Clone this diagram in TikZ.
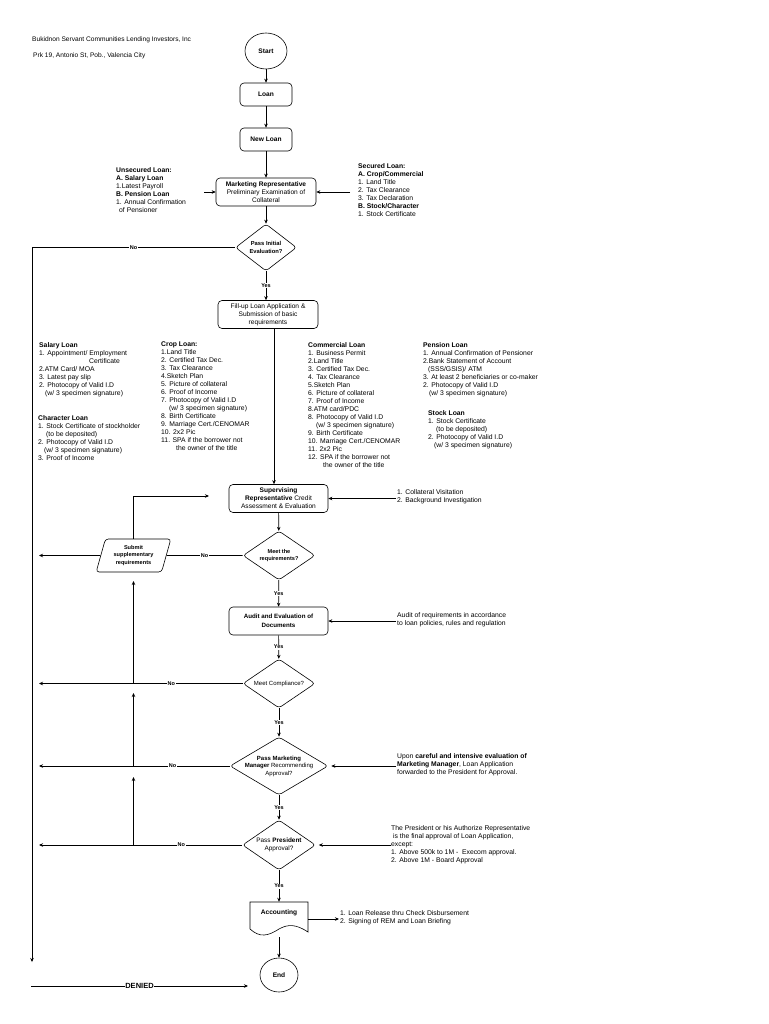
\documentclass[tikz,border=0pt]{standalone}
\usepackage{fontspec}
\setmainfont{Liberation Sans}
\usetikzlibrary{shapes.geometric,arrows.meta}
\begin{document}
\begin{tikzpicture}[x=1pt,y=-1pt,
  arr/.style={-{Stealth[length=4pt,width=3.5pt]},line width=0.7pt},
  ln/.style={line width=0.7pt},
  txt/.style={anchor=north west,align=left,inner sep=0,font=\fontsize{6.8}{8}\selectfont},
  hd/.style={anchor=west,inner sep=0,font=\fontsize{6.6}{8}\selectfont},
  box/.style={draw,rounded corners=4pt,line width=0.6pt,inner sep=0,align=center,font=\fontsize{6.6}{8}\selectfont},
  dia/.style={draw,diamond,rounded corners=3pt,line width=0.6pt,inner sep=0},
  dt/.style={align=center,inner sep=0,font=\fontsize{6}{7.5}\selectfont},
  lbl/.style={fill=white,inner sep=0.6pt,font=\bfseries\fontsize{5.5}{6}\selectfont},
  circ/.style={draw,ellipse,line width=0.6pt,inner sep=0,font=\bfseries\fontsize{6.6}{8}\selectfont}]
\useasboundingbox (0,0) rectangle (768,1024);
% header
\node[hd] (h1) at (32,40) {Bukidnon Servant Communities Lending Investors, Inc};
\node[hd] (h2) at (33,56) {Prk 19, Antonio St, Pob., Valencia City};
% main column top
\node[circ,minimum width=42,minimum height=36] (start) at (266,51) {Start};
\node[box,minimum width=52,minimum height=23,font=\bfseries\fontsize{6.6}{8}\selectfont] (loan) at (266,94.5) {Loan};
\node[box,minimum width=52,minimum height=23,font=\bfseries\fontsize{6.6}{8}\selectfont] (new) at (266,139.5) {New Loan};
\node[box,minimum width=100,minimum height=28] (mkt) at (266,192) {\textbf{Marketing Representative}\\Preliminary Examination of\\Collateral};
\node[dia,minimum width=61,minimum height=47] (d1) at (266,247.5) {};
\node[dt,font=\bfseries\fontsize{5.8}{7.5}\selectfont] (d1t) at (d1) {Pass Initial\\Evaluation?};
\node[box,minimum width=100,minimum height=28] (fill) at (268,314.5) {Fill-up Loan Application \&\\Submission of basic\\requirements};
\draw[arr] (start) -- (loan);
\draw[arr] (loan) -- (new);
\draw[arr] (new) -- (mkt);
\draw[arr] (mkt) -- (d1);
\draw[arr] (d1) -- node[lbl]{Yes} (d1|-fill.north);
% side texts top
\node[txt] (uns) at (116,167) {\textbf{Unsecured Loan:}\\\textbf{A. Salary Loan}\\1.Latest Payroll\\\textbf{B. Pension Loan}\\1. Annual Confirmation\\\hspace{3pt}of Pensioner};
\node[txt] (sec) at (358,163) {\textbf{Secured Loan:}\\\textbf{A. Crop/Commercial}\\1. Land Title\\2. Tax Clearance\\3. Tax Declaration\\\textbf{B. Stock/Character}\\1. Stock Certificate};
\coordinate (ua) at (204,192);
\coordinate (sa) at (350,192);
\draw[arr] (ua) -- (mkt.west);
\draw[arr] (sa) -- (mkt.east);
% requirement columns
\node[txt] (sal) at (39,342) {\textbf{Salary Loan}\\1. Appointment/ Employment\\\hspace{50pt}Certificate\\2.ATM Card/ MOA\\3. Latest pay slip\\2. Photocopy of Valid I.D\\\hspace{6pt}(w/ 3 specimen signature)};
\node[txt] (cha) at (38,415) {\textbf{Character Loan}\\1. Stock Certificate of stockholder\\\hspace{8pt}(to be deposited)\\2. Photocopy of Valid I.D\\\hspace{6pt}(w/ 3 specimen signature)\\3. Proof of Income};
\node[txt] (crop) at (161,342) {\textbf{Crop Loan:}\\1.Land Title\\2. Certified Tax Dec.\\3. Tax Clearance\\4.Sketch Plan\\5. Picture of collateral\\6. Proof of Income\\7. Photocopy of Valid I.D\\\hspace{8pt}(w/ 3 specimen signature)\\8. Birth Certificate\\9. Marriage Cert./CENOMAR\\10. 2x2 Pic\\11. SPA if the borrower not\\\hspace{15pt}the owner of the title};
\node[txt] (com) at (308,342) {\textbf{Commercial Loan}\\1. Business Permit\\2.Land Title\\3. Certified Tax Dec.\\4. Tax Clearance\\5.Sketch Plan\\6. Picture of collateral\\7. Proof of Income\\8.ATM card/PDC\\8. Photocopy of Valid I.D\\\hspace{8pt}(w/ 3 specimen signature)\\9. Birth Certificate\\10. Marriage Cert./CENOMAR\\11. 2x2 Pic\\12. SPA if the borrower not\\\hspace{15pt}the owner of the title};
\node[txt] (pen) at (423,342) {\textbf{Pension Loan}\\1. Annual Confirmation of Pensioner\\2.Bank Statement of Account\\\hspace{5pt}(SSS/GSIS)/ ATM\\3. At least 2 beneficiaries or co-maker\\2. Photocopy of Valid I.D\\\hspace{6pt}(w/ 3 specimen signature)};
\node[txt] (stk) at (428,410) {\textbf{Stock Loan}\\1. Stock Certificate\\\hspace{8pt}(to be deposited)\\2. Photocopy of Valid I.D\\\hspace{6pt}(w/ 3 specimen signature)};
% lower column
\node[box,minimum width=99,minimum height=28] (sup) at (278.5,498.5) {\textbf{Supervising}\\\textbf{Representative} Credit\\Assessment \& Evaluation};
\draw[arr] ([xshift=6pt]fill.south) -- ([xshift=-4.5pt]sup.north);
\node[dia,minimum width=72,minimum height=49] (d2) at (279,555.5) {};
\node[dt,font=\bfseries\fontsize{5.6}{7.5}\selectfont] (d2t) at (d2) {Meet the\\requirements?};
\node[box,minimum width=99,minimum height=28,font=\bfseries\fontsize{6.2}{9}\selectfont] (aud) at (278.5,621) {Audit and Evaluation of\\Documents};
\node[dia,minimum width=72,minimum height=49] (d3) at (279,683.5) {};
\node[dt] (d3t) at (d3) {Meet Compliance?};
\node[dia,minimum width=98,minimum height=58] (d4) at (279,766) {};
\node[dt] (d4t) at (d4) {\textbf{Pass Marketing}\\\textbf{Manager} Recommending\\Approval?};
\node[dia,minimum width=73,minimum height=50] (d5) at (279,845) {};
\node[dt,font=\fontsize{6.4}{8}\selectfont] (d5t) at (d5) {Pass \textbf{President}\\Approval?};
\node[minimum width=58,minimum height=33,inner sep=0] (acc) at (279,918.5) {};
\draw[line width=0.6pt] (250,929) -- (250,902) -- (308,902) -- (308,932) .. controls (296,924) and (288,924) .. (279,929) .. controls (268,936) and (260,938) .. (250,929);
\node[font=\bfseries\fontsize{6.6}{8}\selectfont,inner sep=0] (acct) at (279,913) {Accounting};
\node[circ,minimum width=38,minimum height=34] (end) at (279,975) {End};
\draw[arr] (sup) -- (d2);
\draw[arr] (d2) -- node[lbl]{Yes} (aud);
\draw[arr] (aud) -- node[lbl]{Yes} (d3);
\draw[arr] (d3) -- node[lbl]{Yes} (d4);
\draw[arr] (d4) -- node[lbl]{Yes} (d5);
\draw[arr] (d5) -- node[lbl]{Yes} (acc.north);
\draw[arr] (279,937) -- (end);
% parallelogram
\node[draw,trapezium,trapezium left angle=72,trapezium right angle=108,trapezium stretches=true,minimum width=75,minimum height=33,rounded corners=3pt,line width=0.6pt,inner sep=0,align=center,font=\bfseries\fontsize{5.6}{7.5}\selectfont] (par) at (133.5,555.5) {Submit\\supplementary\\requirements};
\draw[ln] (d2.west) -- node[lbl]{No} (par.east);
\coordinate (p1) at (39,555.5);
\draw[arr] (par.west) -- (p1);
\coordinate (pt) at (209,496);
\draw[arr] (par.north) |- (pt);
% No branches
\coordinate (n3) at (39,683.5);
\coordinate (n4) at (39,766);
\coordinate (n5) at (39,845);
\draw[arr] (d3.west) -- node[pos=0.35,lbl]{No} (n3);
\draw[arr] (d4.west) -- node[pos=0.3,lbl]{No} (n4);
\draw[arr] (d5.west) -- node[pos=0.3,lbl]{No} (n5);
\coordinate (v3) at (133.5,683.5);
\coordinate (v4) at (133.5,766);
\coordinate (v5) at (133.5,845);
\coordinate (t3) at (133.5,581);
\coordinate (t4) at (133.5,693);
\coordinate (t5) at (133.5,777);
\draw[arr] (v3) -- (t3);
\draw[arr] (v4) -- (t4);
\draw[arr] (v5) -- (t5);
% initial No
\coordinate (n1) at (32,247.5);
\coordinate (n1e) at (32,962);
\draw[arr] (d1.west) -- node[lbl]{No} (n1) -- (n1e);
% denied
\coordinate (den) at (31,986);
\coordinate (dene) at (248,986);
\draw[arr] (den) -- node[fill=white,inner sep=0.6pt,font=\bfseries\fontsize{7.5}{8}\selectfont]{DENIED} (dene);
% right side notes
\node[txt] (r1) at (397,489) {1. Collateral Visitation\\2. Background Investigation};
\node[txt] (r2) at (397,612) {Audit of requirements in accordance\\to loan policies, rules and regulation};
\node[txt] (r3) at (397,753) {Upon \textbf{careful and intensive evaluation of}\\\textbf{Marketing Manager}, Loan Application\\forwarded to the President for Approval.};
\node[txt] (r4) at (391,825) {The President or his Authorize Representative\\\hspace{2pt}is the final approval of Loan Application,\\except:\\1. Above 500k to 1M -\ \ Execom approval.\\2. Above 1M - Board Approval};
\node[txt] (r5) at (340,910) {1. Loan Release thru Check Disbursement\\2. Signing of REM and Loan Briefing};
\coordinate (a1) at (396,498.5);
\coordinate (a2) at (396,621);
\coordinate (a3) at (396,766);
\coordinate (a4) at (391,845);
\coordinate (a5) at (339,919);
\draw[arr] (a1) -- (sup.east);
\draw[arr] (a2) -- (aud.east);
\draw[arr] (a3) -- ([xshift=3pt]d4.east);
\draw[arr] (a4) -- ([xshift=3pt]d5.east);
\draw[arr] (308,919) -- (a5);
\end{tikzpicture}
\end{document}
